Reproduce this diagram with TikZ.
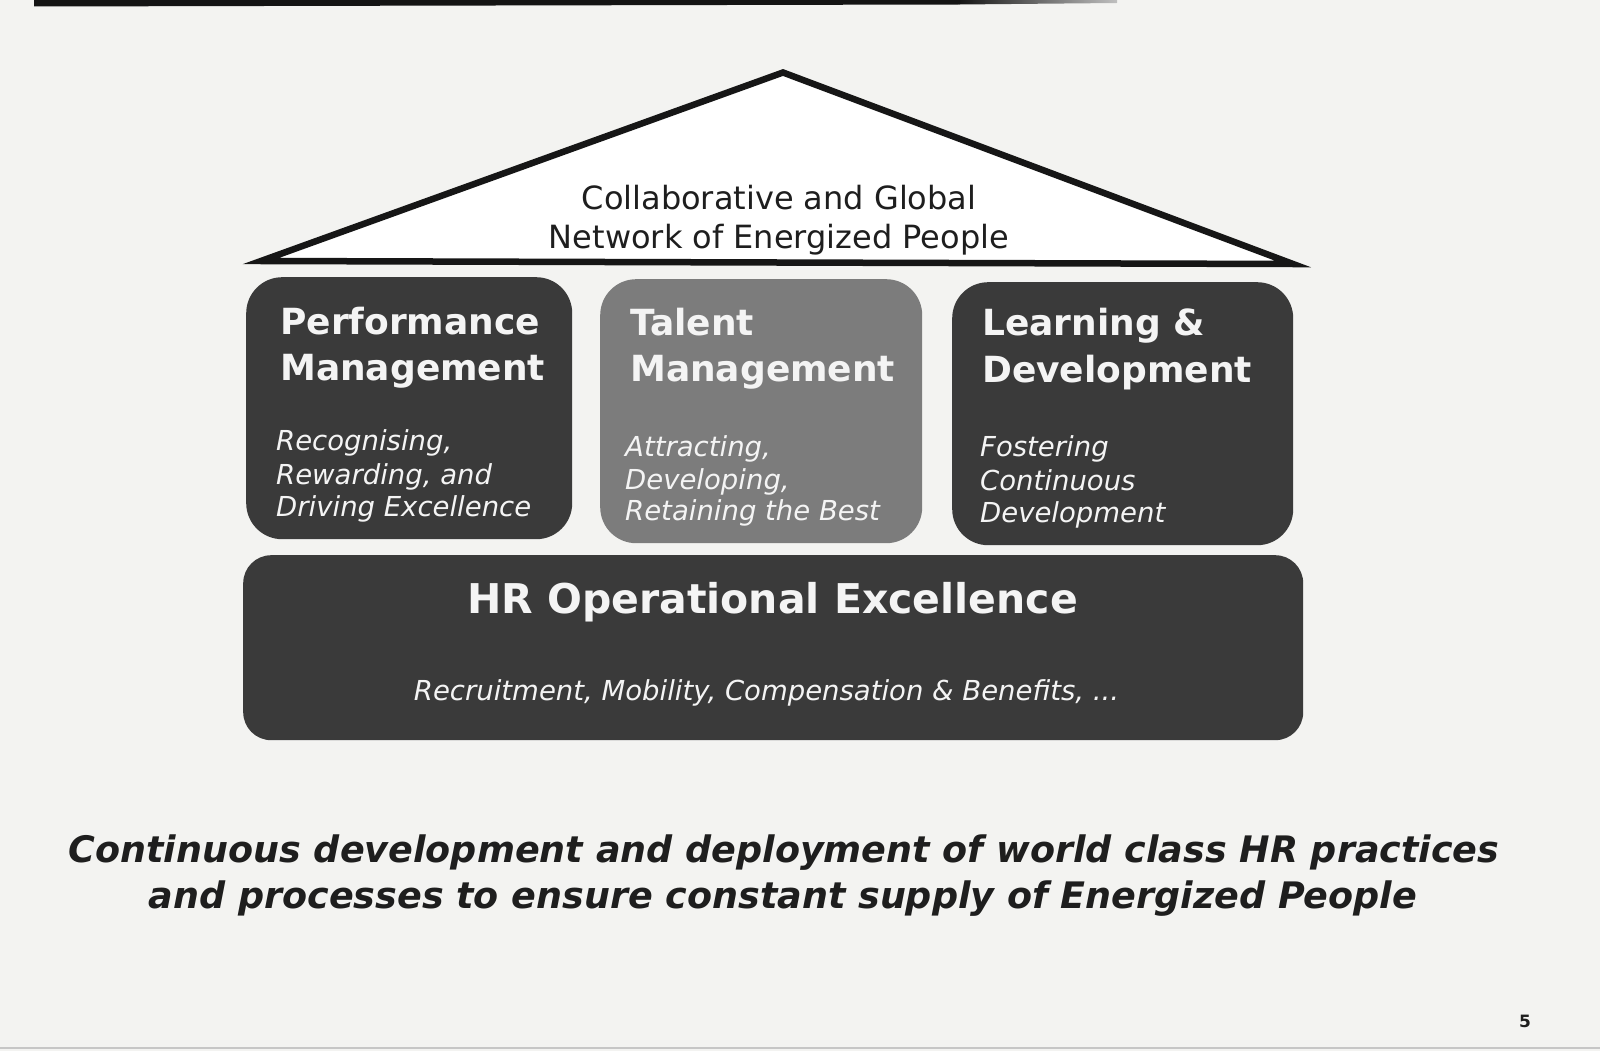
\documentclass[tikz,border=0pt]{standalone}
\usepackage{fontspec}
\setmainfont{DejaVu Sans}
\definecolor{bg}{RGB}{243,243,241}
\definecolor{darkbox}{RGB}{58,58,58}
\definecolor{midbox}{RGB}{124,124,124}
\definecolor{boxtext}{RGB}{244,244,244}
\definecolor{roofline}{RGB}{22,22,22}
\definecolor{inktext}{RGB}{30,30,30}
\begin{document}
\begin{tikzpicture}[x=1pt,y=-1pt,
  pillar/.style={draw=none, fill=darkbox, rounded corners=36pt, inner sep=0pt, anchor=north west},
  pillarmid/.style={pillar, fill=midbox},
  base/.style={draw=none, fill=darkbox, rounded corners=28pt, inner sep=0pt, anchor=north west},
  roof/.style={draw=roofline, fill=white, line width=6.5pt, line join=miter, miter limit=10},
  rooftext/.style={anchor=base, inner sep=0pt, text=inktext, font=\fontsize{32}{38}\selectfont},
  headtext/.style={anchor=base west, inner sep=0pt, text=boxtext, font=\fontsize{36}{44}\selectfont\bfseries},
  subtext/.style={anchor=base west, inner sep=0pt, text=boxtext, font=\fontsize{27.5}{33}\selectfont\itshape},
  hrhead/.style={anchor=base, inner sep=0pt, text=boxtext, font=\fontsize{41}{48}\selectfont\bfseries},
  hrsub/.style={anchor=base, inner sep=0pt, text=boxtext, font=\fontsize{27.5}{33}\selectfont\itshape},
  caption/.style={anchor=base, inner sep=0pt, text=inktext, font=\fontsize{36.5}{46}\selectfont\bfseries\itshape},
  pagenum/.style={anchor=base, inner sep=0pt, text=inktext, font=\fontsize{17}{20}\selectfont\bfseries}
]
\useasboundingbox (0,0) rectangle (1600,1051);
\fill[bg] (0,0) rectangle (1600,1051);

% top rule and faint bottom rule
\fill[black!92] (34,0) -- (960,0) -- (960,4.5) -- (34,6.5) -- cycle;
\shade[left color=black!92, right color=gray!50] (959,0) -- (1117,0) -- (1117,3) -- (959,4.5) -- cycle;
\draw[gray!45, line width=1.5pt] (0,1048) -- (1600,1048);

% roof
\coordinate (apex) at (783,72.5);
\coordinate (roofL) at (261,261);
\coordinate (roofR) at (1293,264);
\draw[roof] (roofL) -- (apex) -- (roofR) -- cycle;
\node[rooftext] (roof1) at (779,209) {Collaborative and Global};
\node[rooftext] (roof2) at (779,248) {Network of Energized People};

% pillars
\node[pillar, minimum width=326pt, minimum height=262pt] (pm) at (246,277) {};
\node[pillarmid, minimum width=322pt, minimum height=264pt] (tm) at (600,279) {};
\node[pillar, minimum width=341pt, minimum height=263pt] (ld) at (952,282) {};
\node[base, minimum width=1060pt, minimum height=185pt] (hr) at (243,555) {};

% pillar texts
\node[headtext] (pm1) at (280,334) {Performance};
\node[headtext] (pm2) at (280,380) {Management};
\node[subtext] (pm3) at (276,450) {Recognising,};
\node[subtext] (pm4) at (276,484) {Rewarding, and};
\node[subtext] (pm5) at (276,516) {Driving Excellence};

\node[headtext] (tm1) at (630,335) {Talent};
\node[headtext] (tm2) at (630,381) {Management};
\node[subtext] (tm3) at (625,456) {Attracting,};
\node[subtext] (tm4) at (625,489) {Developing,};
\node[subtext] (tm5) at (625,520) {Retaining the Best};

\node[headtext] (ld1) at (982,335) {Learning \&};
\node[headtext] (ld2) at (982,382) {Development};
\node[subtext] (ld3) at (980,456) {Fostering};
\node[subtext] (ld4) at (980,490) {Continuous};
\node[subtext] (ld5) at (980,522) {Development};

% foundation texts
\node[hrhead] (hr1) at (772.5,613) {HR Operational Excellence};
\node[hrsub] (hr2) at (766.5,700) {Recruitment, Mobility, Compensation \& Benefits, ...};

% caption
\node[caption] (cap1) at (784,862) {Continuous development and deployment of world class HR practices};
\node[caption] (cap2) at (783,908) {and processes to ensure constant supply of Energized People};

\node[pagenum] (pg) at (1525,1027) {5};
\end{tikzpicture}
\end{document}
